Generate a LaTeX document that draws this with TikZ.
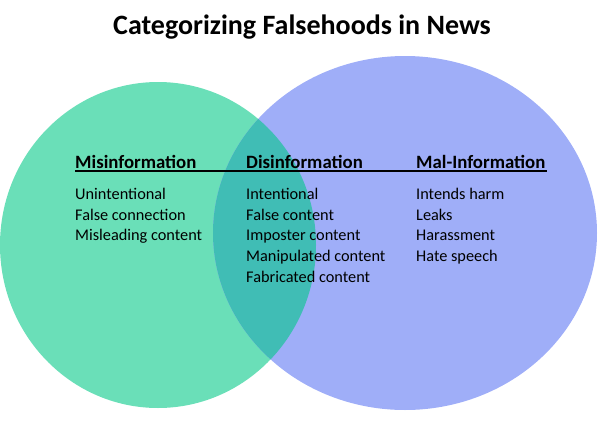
\documentclass[tikz,border=0pt]{standalone}
\usepackage{fontspec}
\setmainfont{Carlito}
\definecolor{cgreen}{HTML}{6ADFB8}
\definecolor{cblue}{HTML}{9FAEF8}
\definecolor{cboth}{HTML}{40BDB5}
\begin{document}
\begin{tikzpicture}[x=1pt,y=-1pt,
  head/.style={anchor=base west,font=\fontsize{18.8}{22}\selectfont\bfseries,inner sep=0pt},
  item/.style={anchor=north west,align=left,font=\fontsize{16.3}{20.7}\selectfont,inner sep=0pt}]
\useasboundingbox (0,0) rectangle (600,439);
\fill[cgreen] (158,245) ellipse [x radius=158,y radius=163];
\fill[cblue] (405,233) ellipse [x radius=192,y radius=177];
\begin{scope}
\clip (158,245) ellipse [x radius=158,y radius=163];
\fill[cboth] (405,233) ellipse [x radius=192,y radius=177];
\end{scope}
\node[font=\fontsize{28}{32}\selectfont\bfseries] (t) at (302,27) {Categorizing Falsehoods in News};
\node[head] (h1) at (75,168) {Misinformation};
\node[head] (h2) at (246,168) {Disinformation};
\node[head] (h3) at (416,168) {Mal-Information};
\coordinate (l1) at (75,171); \coordinate (l2) at (547,171);
\draw[line width=1.3pt] (l1) -- (l2);
\node[item] (i1) at (75,188) {Unintentional\\False connection\\Misleading content};
\node[item] (i2) at (246,188) {Intentional\\False content\\Imposter content\\Manipulated content\\Fabricated content};
\node[item] (i3) at (416,188) {Intends harm\\Leaks\\Harassment\\Hate speech};
\end{tikzpicture}
\end{document}
